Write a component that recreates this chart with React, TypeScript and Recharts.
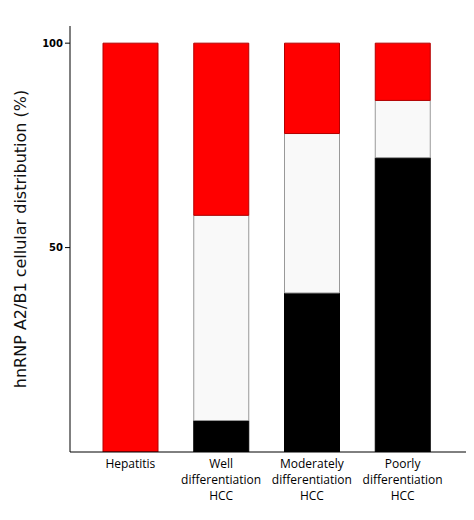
import React from 'react';
import { BarChart, Bar, XAxis, YAxis } from 'recharts';

const categories = ['Hepatitis', 'Well differentiation HCC', 'Moderately differentiation HCC', 'Poorly differentiation HCC'];
const blackValues = [0, 7.7, 38.9, 72.0];
const whiteValues = [0, 50.2, 39.0, 14.0];
const redValues = [100, 42.1, 22.1, 14.0];
const yTicks = [50, 100];

const data = categories.map((name, i) => ({
  name,
  black: blackValues[i],
  white: whiteValues[i],
  red: redValues[i],
}));

const labelLines: Record<string, string[]> = {
  'Hepatitis': ['Hepatitis'],
  'Well differentiation HCC': ['Well', 'differentiation', 'HCC'],
  'Moderately differentiation HCC': ['Moderately', 'differentiation', 'HCC'],
  'Poorly differentiation HCC': ['Poorly', 'differentiation', 'HCC'],
};

const XTick = ({ x, y, payload }: any) => {
  const lines = labelLines[payload.value] || [payload.value];
  return (
    <text x={x} y={y} textAnchor="middle" fill="#000" fontSize={12} fontFamily="'Open Sans', sans-serif">
      {lines.map((l, i) => (
        <tspan key={i} x={x} dy={i === 0 ? 8 : 16}>{l}</tspan>
      ))}
    </text>
  );
};

const App = () => {
  return (
    <div style={{ width: 474, height: 520, background: '#fff' }}>
      <style>{`body{margin:0}`}</style>
      <BarChart
        width={474}
        height={520}
        data={data}
        margin={{ top: 26, right: 8, left: 30, bottom: 0 }}
        barCategoryGap={36}
      >
        <XAxis
          dataKey="name"
          tick={<XTick />}
          tickLine={false}
          axisLine={{ stroke: '#000' }}
          interval={0}
          padding={{ left: 15, right: 18 }}
          height={68}
        />
        <YAxis
          width={40}
          domain={[0, 104.2]}
          ticks={yTicks}
          tickSize={5}
          tickMargin={2}
          axisLine={{ stroke: '#000' }}
          tickLine={{ stroke: '#000' }}
          tick={{ fill: '#000', fontSize: 10, fontFamily: 'DejaVu Sans', fontWeight: 'bold' }}
          allowDataOverflow
          label={{
            value: 'hnRNP A2/B1 cellular distribution (%)',
            angle: -90,
            position: 'left',
            offset: 10,
            style: { textAnchor: 'middle', fill: '#111', fontSize: 16, fontFamily: 'DejaVu Sans' },
          }}
        />
        <Bar dataKey="black" stackId="a" fill="#000" stroke="#000" barSize={55} isAnimationActive={false} />
        <Bar dataKey="white" stackId="a" fill="#f9f9f9" stroke="#999" barSize={55} isAnimationActive={false} />
        <Bar dataKey="red" stackId="a" fill="#ff0000" stroke="#b30000" barSize={55} isAnimationActive={false} />
      </BarChart>
    </div>
  );
};

export default App;
